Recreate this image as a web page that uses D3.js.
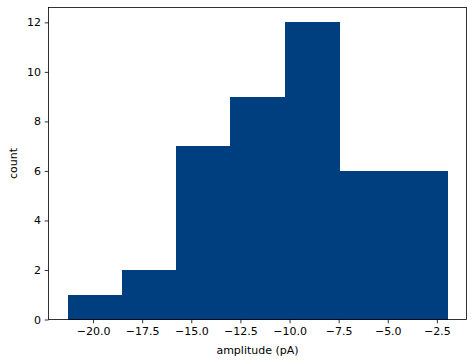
<!DOCTYPE html>
<html>
<head>
<meta charset="utf-8">
<script src="https://cdn.jsdelivr.net/npm/d3@7"></script>
<style>
  body { margin: 0; background: #fff; }
  text { font-family: "DejaVu Sans", sans-serif; fill: #000; }
</style>
</head>
<body>
<script>
// histogram bins (edges) and counts
const binEdges = [-21.30, -18.54, -15.77, -13.01, -10.25, -7.48, -4.72, -1.96];
const counts = [1, 2, 7, 9, 12, 6, 6];
const xTicks = [-20.0, -17.5, -15.0, -12.5, -10.0, -7.5, -5.0, -2.5];
const yTicks = [0, 2, 4, 6, 8, 10, 12];

const W = 474, H = 364;
const margin = {top: 7.5, bottom: 44.5, left: 48.5, right: 7.5};
const width = W - margin.left - margin.right;
const height = H - margin.top - margin.bottom;
const fontSize = '11px';

const bins = counts.map((c, i) => ({x0: binEdges[i], x1: binEdges[i + 1], n: c}));

const svg = d3.select('body').append('svg')
  .attr('width', W)
  .attr('height', H);

const g = svg.append('g')
  .attr('transform', `translate(${margin.left},${margin.top})`);

// matplotlib style 5% margins
const span = binEdges[binEdges.length - 1] - binEdges[0];
const xscale = d3.scaleLinear()
  .domain([binEdges[0] - span * 0.05, binEdges[binEdges.length - 1] + span * 0.05])
  .range([0, width]);
const yscale = d3.scaleLinear()
  .domain([0, d3.max(counts) * 1.05])
  .range([height, 0]);

g.selectAll('rect.bar').data(bins).join('rect')
  .attr('class', 'bar')
  .attr('x', d => xscale(d.x0))
  .attr('width', d => xscale(d.x1) - xscale(d.x0) + 0.6)
  .attr('y', d => yscale(d.n))
  .attr('height', d => yscale(0) - yscale(d.n))
  .attr('fill', '#003f7f')
  .attr('shape-rendering', 'crispEdges');

const fmt = d => d3.format('.1f')(d).replace('-', '\u2212');

const xaxis = d3.axisBottom(xscale).tickValues(xTicks).tickFormat(fmt)
  .tickSize(3.8).tickPadding(3.6);
const yaxis = d3.axisLeft(yscale).tickValues(yTicks).tickFormat(d3.format('d'))
  .tickSize(3.8).tickPadding(3.6);

const gx = g.append('g').attr('transform', `translate(0,${height})`).call(xaxis);
const gy = g.append('g').call(yaxis);

[gx, gy].forEach(a => {
  a.select('.domain').remove();
  a.selectAll('line').attr('stroke', '#000').attr('stroke-width', 0.8);
  a.selectAll('text').attr('font-size', fontSize).attr('fill', '#000')
    .style('font-family', '"DejaVu Sans", sans-serif');
});

// frame
g.append('rect')
  .attr('x', 0).attr('y', 0)
  .attr('width', width).attr('height', height)
  .attr('fill', 'none')
  .attr('stroke', '#000')
  .attr('stroke-width', 0.8);

// axis labels
svg.append('text')
  .attr('x', margin.left + width / 2)
  .attr('y', 354)
  .attr('text-anchor', 'middle')
  .attr('font-size', fontSize)
  .text('amplitude (pA)');

svg.append('text')
  .attr('transform', `translate(17,${margin.top + height / 2}) rotate(-90)`)
  .attr('text-anchor', 'middle')
  .attr('font-size', fontSize)
  .text('count');
</script>
</body>
</html>
